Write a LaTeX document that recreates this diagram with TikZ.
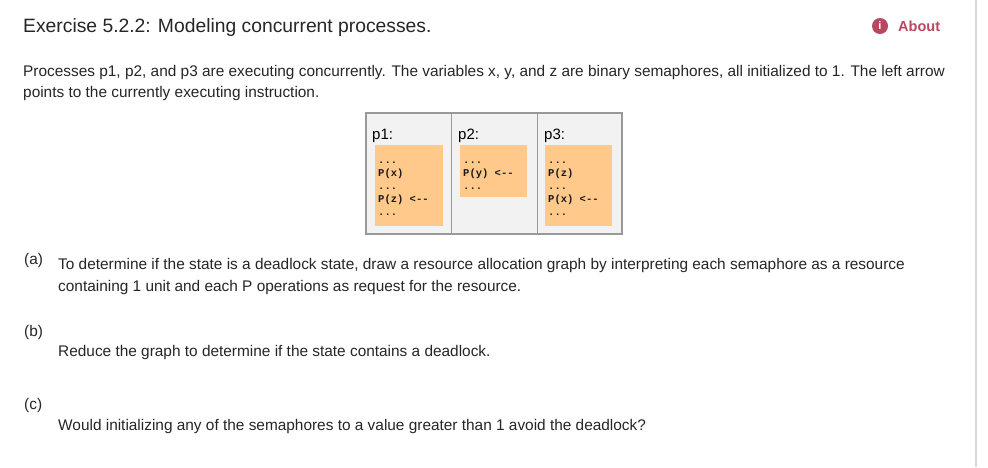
\documentclass[tikz,border=0pt]{standalone}
\usepackage{fontspec}
\setmainfont{Liberation Sans}
\newfontfamily\codefont{Liberation Mono}
\definecolor{orng}{HTML}{FFC98C}
\definecolor{aboutc}{HTML}{B8475F}
\begin{document}
\begin{tikzpicture}[x=1pt,y=-1pt,
  txt/.style={anchor=base west,inner sep=0pt,font=\fontsize{15.4}{17}\selectfont,text=black!85},
  code/.style={anchor=base west,inner sep=0pt,font=\codefont\bfseries\fontsize{10.5}{11}\selectfont,text=black!90},
  obox/.style={fill=orng,draw=none},
  plab/.style={anchor=base west,inner sep=0pt,font=\fontsize{15}{16}\selectfont}]
\useasboundingbox (0,0) rectangle (988,467);
\fill[white] (0,0) rectangle (988,467);
\draw[black!15,line width=1.5] (976,0) -- (976,467);
\node[txt,font=\fontsize{19.3}{21}\selectfont] (title) at (23,32) {Exercise 5.2.2: Modeling concurrent processes.};
\fill[aboutc] (880,26) circle (8);
\node[inner sep=0pt,text=white,font=\bfseries\fontsize{11}{12}\selectfont] (ic) at (880,26) {i};
\node[txt,font=\bfseries\fontsize{14.5}{16}\selectfont,text=aboutc] (about) at (898,31) {About};
\node[txt] (l1) at (23,76) {Processes p1, p2, and p3 are executing concurrently. The variables x, y, and z are binary semaphores, all initialized to 1. The left arrow};
\node[txt] (l2) at (23,97) {points to the currently executing instruction.};
\fill[black!5] (366,113) rectangle (622,234);
\draw[black!40,line width=1.5] (366,113) rectangle (622,234);
\draw[black!40] (451,113) -- (451,234) (537,113) -- (537,234);
\node[plab] (p1) at (372,139) {p1:};
\node[plab] (p2) at (458,139) {p2:};
\node[plab] (p3) at (544,139) {p3:};
\fill[obox] (375,145) rectangle (443,226);
\fill[obox] (460,145) rectangle (527,197);
\fill[obox] (545,145) rectangle (612,226);
\node[code] (a1) at (378,163) {...};
\node[code] (a2) at (378,176) {P(x)};
\node[code] (a3) at (378,189) {...};
\node[code] (a4) at (378,202) {P(z)\ <--};
\node[code] (a5) at (378,215) {...};
\node[code] (b1) at (463,163) {...};
\node[code] (b2) at (463,176) {P(y)\ <--};
\node[code] (b3) at (463,189) {...};
\node[code] (c1) at (548,163) {...};
\node[code] (c2) at (548,176) {P(z)};
\node[code] (c3) at (548,189) {...};
\node[code] (c4) at (548,202) {P(x)\ <--};
\node[code] (c5) at (548,215) {...};
\node[txt] (qa) at (24,264) {(a)};
\node[txt] (qa1) at (58,269) {To determine if the state is a deadlock state, draw a resource allocation graph by interpreting each semaphore as a resource};
\node[txt] (qa2) at (58,291) {containing 1 unit and each P operations as request for the resource.};
\node[txt] (qb) at (24,336) {(b)};
\node[txt] (qb1) at (58,356) {Reduce the graph to determine if the state contains a deadlock.};
\node[txt] (qc) at (24,409) {(c)};
\node[txt] (qc1) at (58,430) {Would initializing any of the semaphores to a value greater than 1 avoid the deadlock?};
\end{tikzpicture}
\end{document}
